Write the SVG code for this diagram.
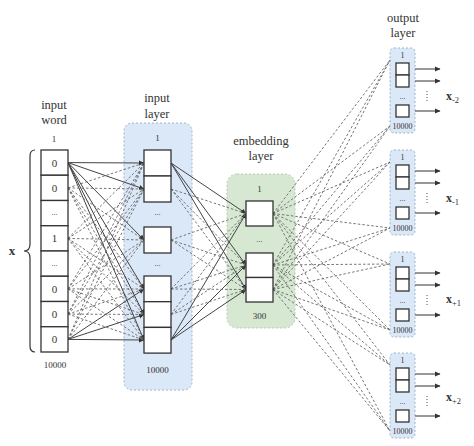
<svg xmlns="http://www.w3.org/2000/svg" width="474" height="446" viewBox="0 0 474 446">
<defs>
<style>
text{font-family:"Liberation Serif","Times New Roman",serif;fill:#333;text-anchor:middle}
.lbl{font-size:12.5px}
.cl{font-size:11px}
.sm{font-size:9px}
.xs{font-size:8px}
.cell{fill:#fff;stroke:#333;stroke-width:1.3}
.blue{fill:#dbe8f8;stroke:#9fb4cc;stroke-width:1;stroke-dasharray:2 2}
.green{fill:#d6e8d2;stroke:#b3ccae;stroke-width:1;stroke-dasharray:2 2}
.s{stroke:#444;stroke-width:1;fill:none}
.d{stroke:#666;stroke-width:0.9;stroke-dasharray:2.5 2;fill:none}
.o{stroke:#333;stroke-width:1;fill:none}
.xl{font-size:12px;font-weight:bold;text-anchor:start}
</style>
<marker id="ah" markerWidth="6" markerHeight="6" refX="5" refY="3" orient="auto" markerUnits="userSpaceOnUse"><path d="M0,0.5 L5.5,3 L0,5.5 z" fill="#333"/></marker>
</defs>

<g id="panels">
<rect id="input-layer-bg" class="blue" x="124" y="123" width="68" height="267" rx="8"/>
<rect id="embedding-bg" class="green" x="227" y="174" width="68" height="154" rx="10"/>
<rect id="out1-bg" class="blue" x="390" y="48" width="25" height="85" rx="4"/>
<rect id="out2-bg" class="blue" x="390" y="150" width="25" height="85" rx="4"/>
<rect id="out3-bg" class="blue" x="390" y="252" width="25" height="85" rx="4"/>
<rect id="out4-bg" class="blue" x="390" y="353" width="25" height="85" rx="4"/>
</g>

<g id="connectors">
<!-- input word to input layer -->
<g marker-end="url(#ah)">
<line class="s" x1="68" y1="162.6" x2="144" y2="163"/>
<line class="s" x1="68" y1="162.6" x2="144" y2="189"/>
<line class="s" x1="68" y1="162.6" x2="144" y2="240"/>
<line class="s" x1="68" y1="162.6" x2="144" y2="289"/>
<line class="s" x1="68" y1="162.6" x2="144" y2="314.5"/>
<line class="s" x1="68" y1="162.6" x2="144" y2="340"/>
<line class="s" x1="68" y1="339.4" x2="144" y2="289"/>
<line class="s" x1="68" y1="339.4" x2="144" y2="314.5"/>
<line class="s" x1="68" y1="339.4" x2="144" y2="340"/>
</g>
<g>
<line class="d" x1="68" y1="339.4" x2="144" y2="163"/>
<line class="d" x1="68" y1="339.4" x2="144" y2="189"/>
<line class="d" x1="68" y1="339.4" x2="144" y2="240"/>
<line class="d" x1="68" y1="187.9" x2="144" y2="163"/>
<line class="d" x1="68" y1="187.9" x2="144" y2="189"/>
<line class="d" x1="68" y1="187.9" x2="144" y2="240"/>
<line class="d" x1="68" y1="187.9" x2="144" y2="289"/>
<line class="d" x1="68" y1="187.9" x2="144" y2="314.5"/>
<line class="d" x1="68" y1="187.9" x2="144" y2="340"/>
<line class="d" x1="68" y1="238.4" x2="144" y2="163"/>
<line class="d" x1="68" y1="238.4" x2="144" y2="189"/>
<line class="d" x1="68" y1="238.4" x2="144" y2="240"/>
<line class="d" x1="68" y1="238.4" x2="144" y2="289"/>
<line class="d" x1="68" y1="238.4" x2="144" y2="314.5"/>
<line class="d" x1="68" y1="238.4" x2="144" y2="340"/>
<line class="d" x1="68" y1="288.9" x2="144" y2="163"/>
<line class="d" x1="68" y1="288.9" x2="144" y2="189"/>
<line class="d" x1="68" y1="288.9" x2="144" y2="240"/>
<line class="d" x1="68" y1="288.9" x2="144" y2="289"/>
<line class="d" x1="68" y1="288.9" x2="144" y2="314.5"/>
<line class="d" x1="68" y1="288.9" x2="144" y2="340"/>
<line class="d" x1="68" y1="314.1" x2="144" y2="163"/>
<line class="d" x1="68" y1="314.1" x2="144" y2="189"/>
<line class="d" x1="68" y1="314.1" x2="144" y2="240"/>
<line class="d" x1="68" y1="314.1" x2="144" y2="289"/>
<line class="d" x1="68" y1="314.1" x2="144" y2="314.5"/>
<line class="d" x1="68" y1="314.1" x2="144" y2="340"/>
</g>
<!-- input layer to embedding -->
<g marker-end="url(#ah)">
<line class="s" x1="171" y1="163" x2="246" y2="213.5"/>
<line class="s" x1="171" y1="163" x2="246" y2="265"/>
<line class="s" x1="171" y1="163" x2="246" y2="289.5"/>
<line class="s" x1="171" y1="340" x2="246" y2="213.5"/>
<line class="s" x1="171" y1="340" x2="246" y2="265"/>
<line class="s" x1="171" y1="340" x2="246" y2="289.5"/>
</g>
<g>
<line class="d" x1="171" y1="189" x2="246" y2="213.5"/>
<line class="d" x1="171" y1="189" x2="246" y2="265"/>
<line class="d" x1="171" y1="189" x2="246" y2="289.5"/>
<line class="d" x1="171" y1="240" x2="246" y2="213.5"/>
<line class="d" x1="171" y1="240" x2="246" y2="265"/>
<line class="d" x1="171" y1="240" x2="246" y2="289.5"/>
<line class="d" x1="171" y1="289" x2="246" y2="213.5"/>
<line class="d" x1="171" y1="289" x2="246" y2="265"/>
<line class="d" x1="171" y1="289" x2="246" y2="289.5"/>
<line class="d" x1="171" y1="314.5" x2="246" y2="213.5"/>
<line class="d" x1="171" y1="314.5" x2="246" y2="265"/>
<line class="d" x1="171" y1="314.5" x2="246" y2="289.5"/>
</g>
<!-- embedding to output -->
<g>
<line class="d" x1="273" y1="213.5" x2="390" y2="60"/>
<line class="d" x1="273" y1="213.5" x2="390" y2="126"/>
<line class="d" x1="273" y1="213.5" x2="390" y2="162"/>
<line class="d" x1="273" y1="213.5" x2="390" y2="228"/>
<line class="d" x1="273" y1="213.5" x2="390" y2="264"/>
<line class="d" x1="273" y1="213.5" x2="390" y2="330"/>
<line class="d" x1="273" y1="213.5" x2="390" y2="365"/>
<line class="d" x1="273" y1="213.5" x2="390" y2="431"/>
<line class="d" x1="273" y1="265" x2="390" y2="60"/>
<line class="d" x1="273" y1="265" x2="390" y2="126"/>
<line class="d" x1="273" y1="265" x2="390" y2="162"/>
<line class="d" x1="273" y1="265" x2="390" y2="228"/>
<line class="d" x1="273" y1="265" x2="390" y2="264"/>
<line class="d" x1="273" y1="265" x2="390" y2="330"/>
<line class="d" x1="273" y1="265" x2="390" y2="365"/>
<line class="d" x1="273" y1="265" x2="390" y2="431"/>
<line class="d" x1="273" y1="289.5" x2="390" y2="60"/>
<line class="d" x1="273" y1="289.5" x2="390" y2="126"/>
<line class="d" x1="273" y1="289.5" x2="390" y2="162"/>
<line class="d" x1="273" y1="289.5" x2="390" y2="228"/>
<line class="d" x1="273" y1="289.5" x2="390" y2="264"/>
<line class="d" x1="273" y1="289.5" x2="390" y2="330"/>
<line class="d" x1="273" y1="289.5" x2="390" y2="365"/>
<line class="d" x1="273" y1="289.5" x2="390" y2="431"/>
</g>
<!-- output arrows -->
<g marker-end="url(#ah)">
<line class="o" x1="415" y1="69" x2="440" y2="69"/>
<line class="o" x1="415" y1="81" x2="440" y2="81"/>
<line class="o" x1="415" y1="111" x2="440" y2="111"/>
<line class="o" x1="415" y1="171" x2="440" y2="171"/>
<line class="o" x1="415" y1="183" x2="440" y2="183"/>
<line class="o" x1="415" y1="213" x2="440" y2="213"/>
<line class="o" x1="415" y1="273" x2="440" y2="273"/>
<line class="o" x1="415" y1="285" x2="440" y2="285"/>
<line class="o" x1="415" y1="315" x2="440" y2="315"/>
<line class="o" x1="415" y1="374" x2="440" y2="374"/>
<line class="o" x1="415" y1="386" x2="440" y2="386"/>
<line class="o" x1="415" y1="416" x2="440" y2="416"/>
</g>
</g>

<g id="input-word">
<text class="lbl" x="54" y="109">input</text>
<text class="lbl" x="54" y="124">word</text>
<text class="sm" x="54" y="142">1</text>
<rect class="cell" x="41" y="150" width="27" height="25.25"/>
<rect class="cell" x="41" y="175.25" width="27" height="25.25"/>
<rect class="cell" x="41" y="200.5" width="27" height="25.25"/>
<rect class="cell" x="41" y="225.75" width="27" height="25.25"/>
<rect class="cell" x="41" y="251" width="27" height="25.25"/>
<rect class="cell" x="41" y="276.25" width="27" height="25.25"/>
<rect class="cell" x="41" y="301.5" width="27" height="25.25"/>
<rect class="cell" x="41" y="326.75" width="27" height="25.25"/>
<text class="cl" x="54.5" y="166.5">0</text>
<text class="cl" x="54.5" y="191.8">0</text>
<text class="xs" x="54.5" y="215">...</text>
<text class="cl" x="54.5" y="242.3">1</text>
<text class="xs" x="54.5" y="265.5">...</text>
<text class="cl" x="54.5" y="292.8">0</text>
<text class="cl" x="54.5" y="318">0</text>
<text class="cl" x="54.5" y="343.3">0</text>
<text class="sm" x="55" y="368">10000</text>
<path d="M35,150 Q30,150 30,156 L30,244 Q30,251 24,251 Q30,251 30,258 L30,346 Q30,352 35,352" fill="none" stroke="#333" stroke-width="1.2"/>
<text x="12" y="255" style="font-size:13px;font-weight:bold">x</text>
</g>

<g id="input-layer">
<text class="lbl" x="157" y="102">input</text>
<text class="lbl" x="157" y="118">layer</text>
<text class="sm" x="157.5" y="141">1</text>
<rect class="cell" x="144" y="150" width="27" height="26"/>
<rect class="cell" x="144" y="176" width="27" height="26"/>
<text class="xs" x="157.5" y="215">...</text>
<rect class="cell" x="144" y="227" width="27" height="26"/>
<text class="xs" x="157.5" y="266">...</text>
<rect class="cell" x="144" y="276" width="27" height="25.7"/>
<rect class="cell" x="144" y="301.7" width="27" height="25.7"/>
<rect class="cell" x="144" y="327.4" width="27" height="25.7"/>
<text class="sm" x="157.5" y="373">10000</text>
</g>

<g id="embedding-layer">
<text class="lbl" x="261" y="145">embedding</text>
<text class="lbl" x="261" y="160">layer</text>
<text class="sm" x="259.5" y="192">1</text>
<rect class="cell" x="246" y="201" width="27" height="25"/>
<text class="xs" x="259.5" y="242">...</text>
<rect class="cell" x="246" y="253" width="27" height="24.5"/>
<rect class="cell" x="246" y="277.5" width="27" height="24.5"/>
<text class="sm" x="259.5" y="319">300</text>
</g>

<g id="output-label">
<text class="lbl" x="403" y="22">output</text>
<text class="lbl" x="403" y="37">layer</text>
</g>

<g id="output-1">
<text class="xs" x="402.5" y="58">1</text>
<rect class="cell" x="396" y="63" width="13" height="12"/>
<rect class="cell" x="396" y="75" width="13" height="12"/>
<text class="xs" x="402.5" y="99">...</text>
<rect class="cell" x="396" y="105" width="13" height="12"/>
<text class="xs" x="402.5" y="129">10000</text>
<path d="M427,91 L427,101" stroke="#555" stroke-width="1" stroke-dasharray="1 2"/>
<text class="xl" x="446" y="100">x<tspan style="font-size:8.5px;font-weight:normal" dy="3">-2</tspan></text>
</g>

<g id="output-2">
<text class="xs" x="402.5" y="160">1</text>
<rect class="cell" x="396" y="165" width="13" height="12"/>
<rect class="cell" x="396" y="177" width="13" height="12"/>
<text class="xs" x="402.5" y="201">...</text>
<rect class="cell" x="396" y="207" width="13" height="12"/>
<text class="xs" x="402.5" y="231">10000</text>
<path d="M427,193 L427,203" stroke="#555" stroke-width="1" stroke-dasharray="1 2"/>
<text class="xl" x="446" y="202">x<tspan style="font-size:8.5px;font-weight:normal" dy="3">-1</tspan></text>
</g>

<g id="output-3">
<text class="xs" x="402.5" y="262">1</text>
<rect class="cell" x="396" y="267" width="13" height="12"/>
<rect class="cell" x="396" y="279" width="13" height="12"/>
<text class="xs" x="402.5" y="303">...</text>
<rect class="cell" x="396" y="309" width="13" height="12"/>
<text class="xs" x="402.5" y="333">10000</text>
<path d="M427,295 L427,305" stroke="#555" stroke-width="1" stroke-dasharray="1 2"/>
<text class="xl" x="446" y="303">x<tspan style="font-size:8.5px;font-weight:normal" dy="3">+1</tspan></text>
</g>

<g id="output-4">
<text class="xs" x="402.5" y="363">1</text>
<rect class="cell" x="396" y="368" width="13" height="12"/>
<rect class="cell" x="396" y="380" width="13" height="12"/>
<text class="xs" x="402.5" y="404">...</text>
<rect class="cell" x="396" y="410" width="13" height="12"/>
<text class="xs" x="402.5" y="434">10000</text>
<path d="M427,396 L427,406" stroke="#555" stroke-width="1" stroke-dasharray="1 2"/>
<text class="xl" x="446" y="401">x<tspan style="font-size:8.5px;font-weight:normal" dy="3">+2</tspan></text>
</g>
</svg>
